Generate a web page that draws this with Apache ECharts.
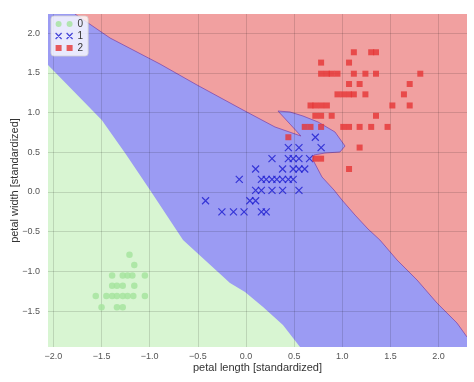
<!DOCTYPE html>
<html>
<head>
<meta charset="utf-8">
<script src="https://cdn.jsdelivr.net/npm/echarts@6/dist/echarts.min.js"></script>
<style>
html,body{margin:0;padding:0;background:#fff;}
#chart{width:474px;height:382px;}
</style>
</head>
<body>
<div id="chart"></div>
<script>
// ---- axis extents (standardized units) ----
const xRange = [-2.056, 2.295];
const yRange = [-1.952, 2.242];

// ---- class labels ----
const classNames = ['0', '1', '2'];

// ---- samples: [petal length, petal width] ----
const class0 = [
  [-1.21,-0.79],[-1.16,-0.92],
  [-1.39,-1.05],[-1.28,-1.05],[-1.23,-1.05],[-1.18,-1.05],[-1.05,-1.05],
  [-1.39,-1.18],[-1.34,-1.18],[-1.28,-1.18],[-1.16,-1.18],
  [-1.56,-1.31],[-1.45,-1.31],[-1.39,-1.31],[-1.34,-1.31],[-1.28,-1.31],[-1.23,-1.31],[-1.17,-1.31],[-1.05,-1.31],
  [-1.50,-1.45],[-1.34,-1.45],[-1.28,-1.45]
];
const class1 = [
  [0.72,0.69],
  [0.44,0.56],[0.55,0.56],[0.78,0.56],
  [0.27,0.42],[0.44,0.42],[0.49,0.42],[0.55,0.42],[0.66,0.42],
  [0.10,0.29],[0.38,0.29],[0.49,0.29],[0.55,0.29],[0.61,0.29],
  [-0.07,0.16],[0.16,0.16],[0.21,0.16],[0.27,0.16],[0.32,0.16],[0.38,0.16],[0.44,0.16],[0.49,0.16],
  [0.10,0.02],[0.16,0.02],[0.27,0.02],[0.38,0.02],[0.55,0.02],
  [-0.42,-0.11],[0.04,-0.11],[0.10,-0.11],
  [-0.25,-0.25],[-0.13,-0.25],[-0.02,-0.25],[0.16,-0.25],[0.21,-0.25]
];
const class2 = [
  [1.12,1.76],[1.30,1.76],[1.35,1.76],
  [0.78,1.63],[1.07,1.63],
  [0.78,1.49],[0.84,1.49],[0.89,1.49],[0.95,1.49],[1.12,1.49],[1.24,1.49],[1.35,1.49],[1.81,1.49],
  [1.07,1.36],[1.18,1.36],[1.70,1.36],
  [0.95,1.23],[1.01,1.23],[1.07,1.23],[1.12,1.23],[1.24,1.23],[1.64,1.23],
  [0.67,1.09],[0.72,1.09],[0.78,1.09],[0.84,1.09],[1.52,1.09],[1.70,1.09],
  [0.72,0.96],[0.78,0.96],[0.89,0.96],[1.35,0.96],
  [0.61,0.82],[0.67,0.82],[0.78,0.82],[1.01,0.82],[1.07,0.82],[1.18,0.82],[1.30,0.82],[1.47,0.82],
  [0.44,0.69],
  [1.18,0.56],
  [0.72,0.42],[0.78,0.42],
  [1.07,0.29]
];

// ---- decision boundaries ----
const greenBoundary = [
  [-2.056,1.600],[-1.498,0.907],[-1.256,0.491],[-0.997,0.025],[-0.654,-0.605],
  [-0.166,-1.146],[-0.010,-1.259],[0.177,-1.448],[0.384,-1.675],[0.561,-1.952]
];
const redBoundary = [
  [-1.776,2.242],[-1.412,1.940],[-0.893,1.612],[-0.509,1.348],[-0.031,1.033],
  [0.301,0.819],[0.571,0.705],
  [0.457,0.856],[0.332,1.020],
  [0.457,1.008],[0.592,0.957],[0.748,0.882],[0.924,0.756],[1.028,0.579],
  [0.976,0.504],[0.820,0.491],[0.706,0.466],
  [0.696,0.403],[0.789,0.189],[0.914,0.025],[0.997,-0.101],[1.132,-0.290],
  [1.267,-0.466],[1.391,-0.605],[1.568,-0.856],[1.776,-1.108],[1.983,-1.398],
  [2.191,-1.650],[2.295,-1.826]
];

const FONT = "'Liberation Sans', Arial, sans-serif";
const C_GREEN = '#d8f5d2', C_BLUE = '#9b9bf3', C_RED = '#f1a0a0';

const blueRegion = [[xRange[0],yRange[0]],[xRange[1],yRange[0]],[xRange[1],yRange[1]],[xRange[0],yRange[1]]];
const greenRegion = greenBoundary.concat([[xRange[0],yRange[0]]]);
const redRegion = redBoundary.concat([[xRange[1],yRange[1]]]);

function fmt(v){
  const s = Math.abs(v).toFixed(1);
  return v < 0 ? '\u2212' + s : s;
}

const crossPath = 'path://M0,0L10,10M10,0L0,10';
const chart = echarts.init(document.getElementById('chart'), null, {renderer:'canvas'});
chart.setOption({
  animation:false,
  textStyle:{fontFamily:FONT},
  grid:{left:48, right:7, top:14, bottom:35, containLabel:false, outerBoundsMode:'none'},
  legend:{
    orient:'vertical', left:51, top:16,
    padding:[3,5,3,4], itemGap:2, itemWidth:17, itemHeight:6,
    backgroundColor:'rgba(255,255,255,0.78)', borderColor:'rgba(210,210,210,0.8)', borderWidth:1, borderRadius:3,
    textStyle:{fontSize:10, color:'#333', fontFamily:FONT, lineHeight:10, padding:[0,0,0,0]},
    selectedMode:false,
    data:[
      {name:classNames[0], icon:'path://M0,3a3,3 0 1,0 6,0a3,3 0 1,0 -6,0ZM11,3a3,3 0 1,0 6,0a3,3 0 1,0 -6,0Z', itemStyle:{color:'#a4e39c'}},
      {name:classNames[1], icon:'path://M0,0L6,6M6,0L0,6M11,0L17,6M17,0L11,6', itemStyle:{color:'rgba(0,0,0,0)', borderColor:'#1c1cd0', borderWidth:1.2}},
      {name:classNames[2], icon:'path://M0,0H6V6H0ZM11,0H17V6H11Z', itemStyle:{color:'#e63535'}}
    ]
  },
  xAxis:{
    type:'value', min:xRange[0], max:xRange[1], splitNumber:8, z:3,
    name:'petal length [standardized]', nameLocation:'middle', nameGap:15, nameMoveOverlap:false,
    nameTextStyle:{fontSize:11, color:'#333', fontFamily:FONT},
    axisLine:{show:false}, axisTick:{show:false},
    axisLabel:{fontSize:9, color:'#555', margin:5, formatter:fmt, showMinLabel:false, showMaxLabel:false, fontFamily:FONT},
    splitLine:{show:true, showMinLine:false, showMaxLine:false, lineStyle:{color:'rgba(0,0,0,0.13)', width:1}}
  },
  yAxis:{
    type:'value', min:yRange[0], max:yRange[1], splitNumber:8, z:3,
    name:'petal width [standardized]', nameLocation:'middle', nameGap:28, nameRotate:90, nameMoveOverlap:false,
    nameTextStyle:{fontSize:11, color:'#333', fontFamily:FONT},
    axisLine:{show:false}, axisTick:{show:false},
    axisLabel:{fontSize:9, color:'#555', margin:8, formatter:fmt, showMinLabel:false, showMaxLabel:false, fontFamily:FONT},
    splitLine:{show:true, showMinLine:false, showMaxLine:false, lineStyle:{color:'rgba(0,0,0,0.13)', width:1}}
  },
  series:[
    {
      type:'custom', z:1, silent:true, clip:true,
      data:[[0,0]],
      renderItem:function(params, api){
        const pts = arr => arr.map(p => api.coord(p));
        return {
          type:'group',
          children:[
            {type:'polygon', shape:{points:pts(blueRegion)}, style:{fill:C_BLUE}},
            {type:'polygon', shape:{points:pts(greenRegion)}, style:{fill:C_GREEN}},
            {type:'polygon', shape:{points:pts(redRegion)}, style:{fill:C_RED}},
            {type:'polyline', shape:{points:pts(redBoundary)}, style:{stroke:'rgba(125,70,170,0.75)', lineWidth:1, fill:null}}
          ]
        };
      }
    },
    {
      name:classNames[0], type:'scatter', z:5, data:class0, symbol:'circle', symbolSize:6.5,
      itemStyle:{color:'#a4e39c'}, emphasis:{disabled:true}
    },
    {
      name:classNames[1], type:'scatter', z:5, data:class1, symbol:crossPath, symbolSize:7,
      itemStyle:{color:'rgba(0,0,0,0)', borderColor:'#1c1cd0', borderWidth:1.2}, emphasis:{disabled:true}
    },
    {
      name:classNames[2], type:'scatter', z:5, data:class2, symbol:'rect', symbolSize:6,
      itemStyle:{color:'#e63535'}, emphasis:{disabled:true}
    }
  ]
});
</script>
</body>
</html>
